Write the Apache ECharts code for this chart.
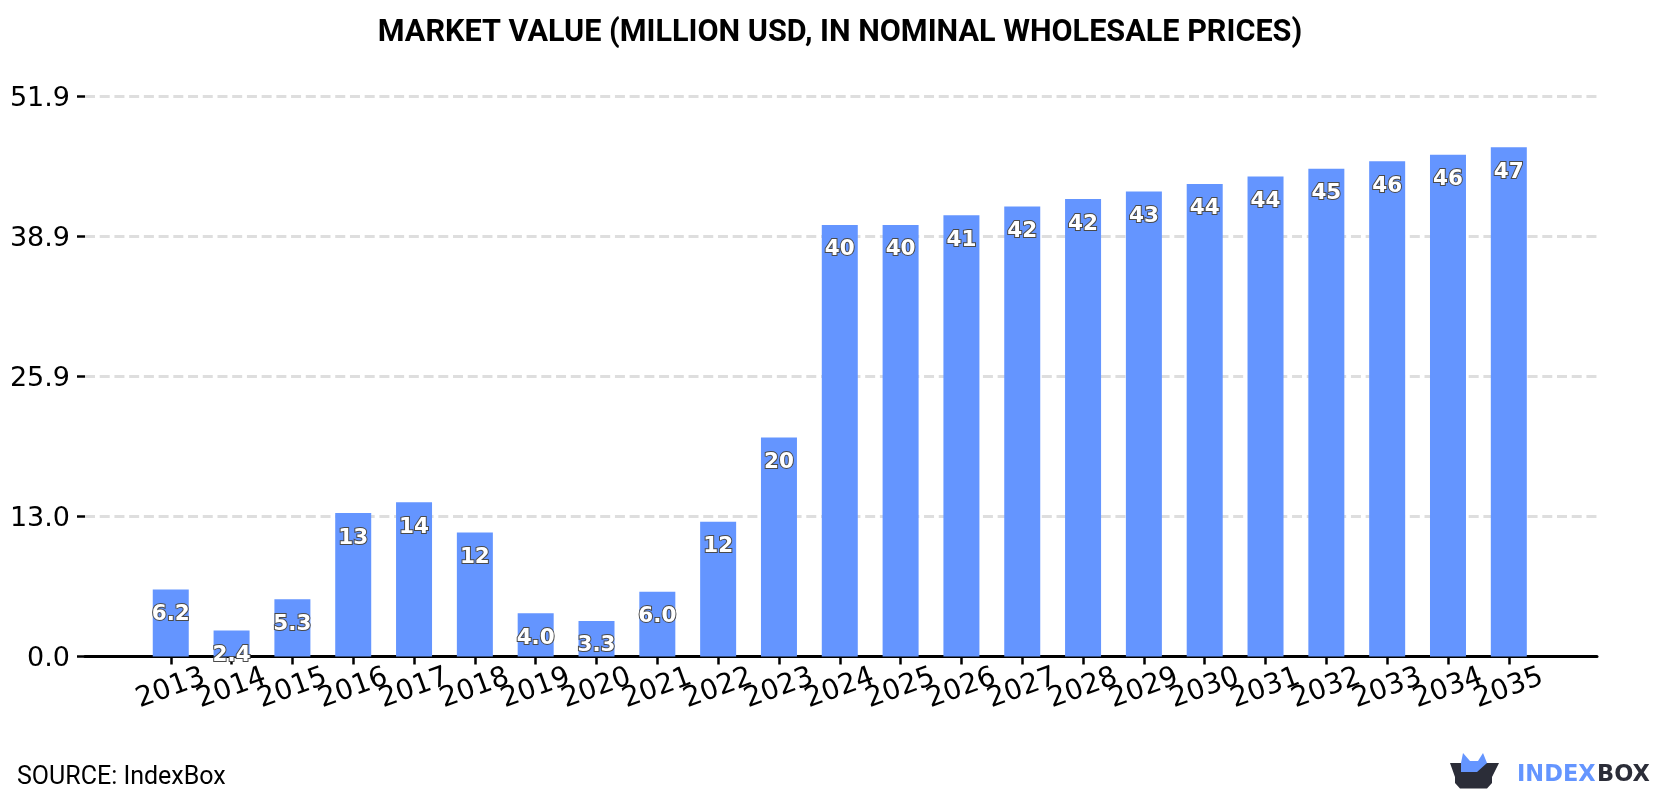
<!DOCTYPE html>
<html>
<head>
<meta charset="utf-8">
<style>html,body{margin:0;padding:0;background:#fff}#chart{width:1680px;height:800px}</style>
<script src="https://cdn.jsdelivr.net/npm/echarts@6/dist/echarts.min.js"></script>
</head>
<body>
<div id="chart"></div>
<script>
const years = [2013,2014,2015,2016,2017,2018,2019,2020,2021,2022,2023,2024,2025,2026,2027,2028,2029,2030,2031,2032,2033,2034,2035];
const marketValue = [6.2,2.4,5.3,13.3,14.3,11.5,4.0,3.3,6.0,12.49,20.3,40.0,40.0,40.9,41.7,42.4,43.1,43.8,44.49,45.2,45.9,46.49,47.2];
const yTicks = [0,12.975,25.95,38.925,51.9];
const yTickLabels = ['0.0','13.0','25.9','38.9','51.9'];
const xMin = 2011.59;
const xMax = 2036.45;
const titleText = 'MARKET VALUE (MILLION USD, IN NOMINAL WHOLESALE PRICES)';
const sourceText = 'SOURCE: IndexBox';

const chart = echarts.init(document.getElementById('chart'), null, {renderer: 'canvas'});

chart.setOption({
  animation: false,
  backgroundColor: '#fff',
  title: {
    text: titleText, left: 'center', top: 13,
    textStyle: {fontFamily: 'Roboto', fontWeight: 'bold', fontSize: 30.6, color: '#000'}
  },
  grid: {left: 85, right: 83, top: 96.5, bottom: 143.5, containLabel: false},
  xAxis: {
    type: 'value', min: xMin, max: xMax,
    splitLine: {show: false},
    axisLine: {show: true, onZero: false, lineStyle: {color: '#000', width: 3}},
    axisTick: {show: true, customValues: years, length: 8, lineStyle: {color: '#000', width: 2.5}},
    axisLabel: {
      // Blank end entries stop the edge-label check from dropping 2014 and 2034,
      // since the slanted years are meant to touch their neighbours.
      customValues: [xMin, ...years, xMax],
      rotate: 20, margin: 32, color: '#000',
      align: 'center', verticalAlign: 'middle',
      hideOverlap: false,
      fontFamily: 'DejaVu Sans', fontSize: 28,
      formatter: v => years.includes(v) ? String(v) : ''
    }
  },
  yAxis: {
    type: 'value', min: 0, max: 51.9,
    axisLine: {show: false},
    axisTick: {show: true, customValues: yTicks, length: 8, lineStyle: {color: '#000', width: 2.5}},
    axisLabel: {
      customValues: yTicks, margin: 15, color: '#000',
      fontFamily: 'DejaVu Sans', fontSize: 27,
      formatter: v => '{t|' + yTickLabels[yTicks.indexOf(v)] + '}',
      rich: {t: {fontFamily: 'DejaVu Sans', fontSize: 27, color: '#000', padding: [5, 0, 0, 0]}}
    },
    splitLine: {
      show: true, customValues: yTicks,
      lineStyle: {color: '#dedede', width: 3, type: [10, 4.72]}
    }
  },
  series: [{
    type: 'bar',
    barWidth: 36,
    data: years.map((y, i) => [y, marketValue[i]]),
    itemStyle: {color: '#6495ff'},
    z: 3,
    label: {
      show: true, position: 'insideTop', distance: 14,
      fontFamily: 'DejaVu Sans', fontWeight: 'bold', fontSize: 21.5,
      color: '#fff', textBorderColor: '#4a4a4a', textBorderWidth: 2,
      formatter: p => {
        const v = p.value[1];
        return v < 10 ? v.toFixed(1) : String(Math.round(v));
      }
    }
  }],
  graphic: [
    {type: 'text', left: 17, top: 765, style: {text: sourceText, fontFamily: 'Roboto', fontSize: 25, fill: '#000'}},
    // IndexBox mark: open box with a blue crown rising out of it
    {type: 'polygon', shape: {points: [[1450,763],[1499,763],[1492,777],[1492,783],[1487,788.5],[1460,788.5],[1455,783],[1455,777]]}, style: {fill: '#2b2d38'}},
    {type: 'polygon', shape: {points: [[1461,763],[1463,753],[1470,761],[1478,761],[1483,753],[1487,763],[1477,772],[1461,772]]}, style: {fill: '#6495ff'}},
    {type: 'text', left: 1517, top: 764, style: {text: 'INDEX', fontFamily: 'DejaVu Sans', fontWeight: 'bold', fontSize: 22.5, fill: '#6495ff'}},
    {type: 'text', left: 1597, top: 764, style: {text: 'BOX', fontFamily: 'DejaVu Sans', fontWeight: 'bold', fontSize: 22.5, fill: '#2b2d38'}}
  ]
});
</script>
</body>
</html>
